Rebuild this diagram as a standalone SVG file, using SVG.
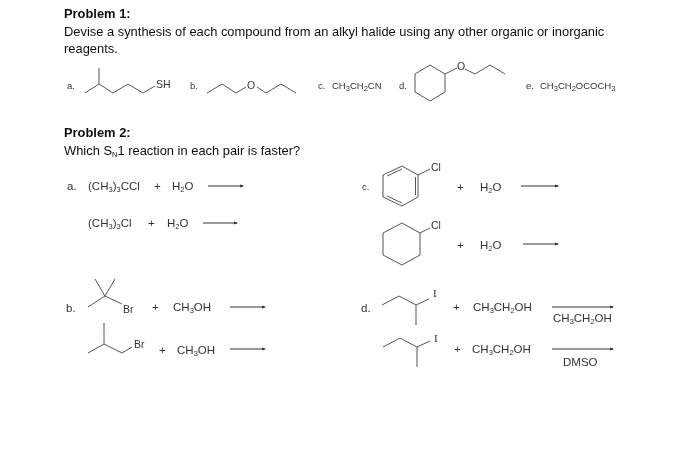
<svg xmlns="http://www.w3.org/2000/svg" width="700" height="461" viewBox="0 0 700 461">
<defs>
<marker id="ah" markerWidth="4" markerHeight="4" refX="3" refY="2" orient="auto" markerUnits="userSpaceOnUse"><path d="M0,0.4 L4,2 L0,3.6 Z" fill="#333"/></marker>
<filter id="soft" x="0" y="0" width="100%" height="100%"><feGaussianBlur stdDeviation="0.3"/></filter>
</defs>
<style>
text{font-family:"Liberation Sans",Arial,sans-serif;fill:#333;font-size:11.5px}
.head{font-size:12.9px;fill:#111}
.b{font-weight:bold}
.lab{font-size:9.5px}
.at{font-size:10.5px}
.s{font-size:7.5px}
.i{font-family:"Liberation Serif",serif;font-size:11px}
.bond{fill:none;stroke:#555;stroke-width:1}
.arr{stroke:#333;stroke-width:1;fill:none;marker-end:url(#ah)}
</style>
<rect width="700" height="461" fill="#fff"/>
<g filter="url(#soft)">
<g id="problem1">
<text class="head b" x="64" y="18">Problem 1:</text>
<text class="head" x="64" y="36">Devise a synthesis of each compound from an alkyl halide using any other organic or inorganic</text>
<text class="head" x="64" y="53">reagents.</text>
</g>
<g id="p1a">
<text class="lab" x="67" y="89">a.</text>
<polyline class="bond" points="85,93 99,84 113,93 128,84 143,93 155,86"/>
<line class="bond" x1="99" y1="84" x2="99" y2="68"/>
<text class="at" x="156" y="88">SH</text>
</g>
<g id="p1b">
<text class="lab" x="190" y="89">b.</text>
<polyline class="bond" points="207,93 222,84 236,93 246,87"/>
<polyline class="bond" points="257,87 266,93 281,84 296,93"/>
<text class="at" x="247" y="89">O</text>
</g>
<g id="p1c">
<text class="lab" x="318" y="89">c.</text>
<text class="lab" x="332" y="89">CH<tspan class="s" dy="1.5">3</tspan><tspan dy="-1.5">CH</tspan><tspan class="s" dy="1.5">2</tspan><tspan dy="-1.5">CN</tspan></text>
</g>
<g id="p1d">
<text class="lab" x="399" y="89">d.</text>
<polygon class="bond" points="430,65 445,74 445,92 430,101 415,92 415,74"/>
<polyline class="bond" points="445,74 457,68"/>
<polyline class="bond" points="465,69 475,74 490,65 505,74"/>
<text class="at" x="457" y="70">O</text>
</g>
<g id="p1e">
<text class="lab" x="526" y="89">e.</text>
<text class="lab" x="540" y="89">CH<tspan class="s" dy="1.5">3</tspan><tspan dy="-1.5">CH</tspan><tspan class="s" dy="1.5">2</tspan><tspan dy="-1.5">OCOCH</tspan><tspan class="s" dy="1.5">3</tspan></text>
</g>
<g id="problem2">
<text class="head b" x="64" y="137">Problem 2:</text>
<text class="head" x="64" y="155">Which S<tspan class="s" dy="2">N</tspan><tspan dy="-2">1 reaction in each pair is faster?</tspan></text>
</g>
<g id="p2a">
<text x="67" y="190">a.</text>
<text x="88" y="190">(CH<tspan class="s" dy="2">3</tspan><tspan dy="-2">)</tspan><tspan class="s" dy="2">3</tspan><tspan dy="-2">CCl</tspan></text>
<text x="154" y="190">+</text>
<text x="172" y="190">H<tspan class="s" dy="2">2</tspan><tspan dy="-2">O</tspan></text>
<text x="88" y="227">(CH<tspan class="s" dy="2">3</tspan><tspan dy="-2">)</tspan><tspan class="s" dy="2">3</tspan><tspan dy="-2">Cl</tspan></text>
<text x="148" y="227">+</text>
<text x="167" y="227">H<tspan class="s" dy="2">2</tspan><tspan dy="-2">O</tspan></text>
</g>
<g id="p2c">
<text x="362" y="190" class="lab">c.</text>
<polygon class="bond" points="402,166 418,175 418,197 402,206 383,197 383,175"/>
<line class="bond" x1="387" y1="176" x2="402" y2="169"/>
<line class="bond" x1="415.500" y1="177" x2="415.500" y2="195"/>
<line class="bond" x1="387" y1="196" x2="402" y2="203"/>
<line class="bond" x1="418" y1="175" x2="430" y2="169"/>
<text class="at" x="431" y="171">Cl</text>
<text x="457" y="191">+</text>
<text x="480" y="191">H<tspan class="s" dy="2">2</tspan><tspan dy="-2">O</tspan></text>
<polygon class="bond" points="402,223 420,233 420,255 402,265 383,255 383,233"/>
<line class="bond" x1="420" y1="233" x2="430" y2="228"/>
<text class="at" x="431" y="229">Cl</text>
<text x="457" y="249">+</text>
<text x="480" y="249">H<tspan class="s" dy="2">2</tspan><tspan dy="-2">O</tspan></text>
</g>
<g id="p2b">
<text x="66" y="312">b.</text>
<polyline class="bond" points="95,279 105,296 115,279"/>
<line class="bond" x1="88" y1="307" x2="105" y2="296"/>
<line class="bond" x1="105" y1="296" x2="122" y2="304"/>
<text class="at" x="123" y="313">Br</text>
<text x="152" y="311">+</text>
<text x="173" y="311">CH<tspan class="s" dy="2">3</tspan><tspan dy="-2">OH</tspan></text>
<polyline class="bond" points="88,353 104,344 122,353 132,347"/>
<line class="bond" x1="104" y1="344" x2="104" y2="323"/>
<text class="at" x="134" y="348">Br</text>
<text x="159" y="354">+</text>
<text x="177" y="354">CH<tspan class="s" dy="2">3</tspan><tspan dy="-2">OH</tspan></text>
</g>
<g id="p2d">
<text x="361" y="312">d.</text>
<polyline class="bond" points="382,305 399,296 416,305 429,299"/>
<line class="bond" x1="416" y1="305" x2="416" y2="325"/>
<text class="i" x="433" y="297">I</text>
<text x="453" y="311">+</text>
<text x="473" y="311">CH<tspan class="s" dy="2">3</tspan><tspan dy="-2">CH</tspan><tspan class="s" dy="2">2</tspan><tspan dy="-2">OH</tspan></text>
<text x="553" y="322">CH<tspan class="s" dy="2">3</tspan><tspan dy="-2">CH</tspan><tspan class="s" dy="2">2</tspan><tspan dy="-2">OH</tspan></text>
<polyline class="bond" points="383,347 400,338 417,347 430,341"/>
<line class="bond" x1="417" y1="347" x2="417" y2="367"/>
<text class="i" x="434" y="342">I</text>
<text x="454" y="353">+</text>
<text x="472" y="353">CH<tspan class="s" dy="2">3</tspan><tspan dy="-2">CH</tspan><tspan class="s" dy="2">2</tspan><tspan dy="-2">OH</tspan></text>
<text x="563" y="366">DMSO</text>
</g>
<g id="connectors">
<line class="arr" x1="208" y1="186" x2="243" y2="186"/>
<line class="arr" x1="203" y1="223" x2="237" y2="223"/>
<line class="arr" x1="521" y1="186" x2="558" y2="186"/>
<line class="arr" x1="523" y1="244" x2="558" y2="244"/>
<line class="arr" x1="230" y1="307" x2="265" y2="307"/>
<line class="arr" x1="230" y1="349" x2="265" y2="349"/>
<line class="arr" x1="552" y1="307" x2="613" y2="307"/>
<line class="arr" x1="552" y1="349" x2="613" y2="349"/>
</g>
</g>
</svg>
